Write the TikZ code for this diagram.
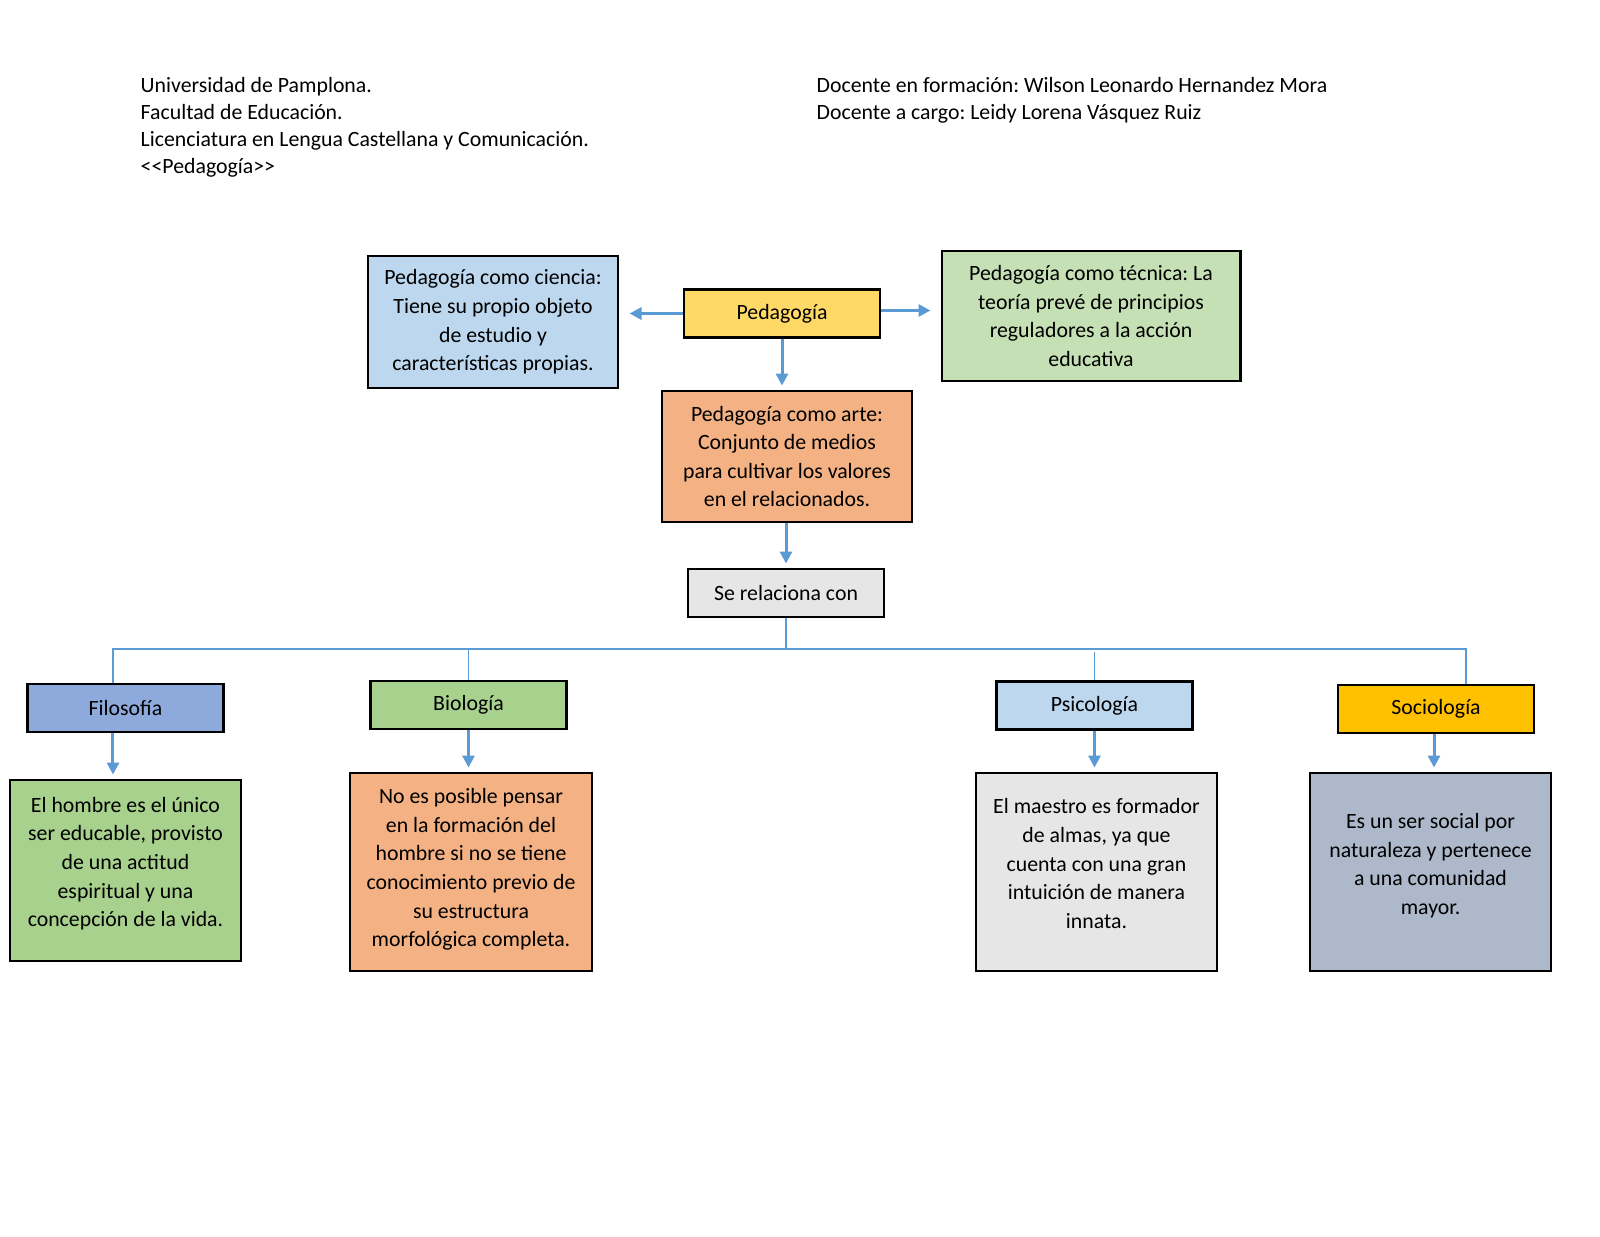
\documentclass[tikz,border=0pt]{standalone}
\usepackage{fontspec}
\setmainfont{Carlito}
\frenchspacing
\usetikzlibrary{arrows.meta}
\definecolor{cienciaBlue}{HTML}{BDD7EE}
\definecolor{pedYellow}{HTML}{FFD966}
\definecolor{tecGreen}{HTML}{C5E0B4}
\definecolor{arteOrange}{HTML}{F4B183}
\definecolor{relGray}{HTML}{E7E6E6}
\definecolor{filoBlue}{HTML}{8EA9DB}
\definecolor{bioGreen}{HTML}{A9D18E}
\definecolor{socGold}{HTML}{FFC000}
\definecolor{socSlate}{HTML}{ADB9CA}
\definecolor{linkBlue}{HTML}{5B9BD5}
\tikzset{
  caja/.style={draw=black, line width=0.8pt, align=center, inner sep=1pt,
    font=\fontsize{6.2}{8.15}\selectfont},
  titulo/.style={caja, minimum width=1.96cm, minimum height=0.48cm},
  flecha/.style={->, draw=linkBlue, line width=0.85pt, shorten >=0.04cm},
  bus/.style={draw=linkBlue, line width=0.4pt},
  cabecera/.style={align=left, anchor=north west, inner sep=0pt,
    font=\fontsize{6.2}{7.7}\selectfont}
}
\begin{document}
\begin{tikzpicture}[>={Triangle[length=0.12cm,width=0.12cm]}, x=0.01cm, y=-0.01cm]
\useasboundingbox (0,0) rectangle (1600,1236);

\node[cabecera] (univ) at (140,76.5) {Universidad de Pamplona.\\Facultad de Educación.\\Licenciatura en Lengua Castellana y Comunicación.\\<\kern0pt<Pedagogía>\kern0pt>};
\node[cabecera] (docentes) at (816,76.5) {Docente en formación: Wilson Leonardo Hernandez Mora\\Docente a cargo: Leidy Lorena Vásquez Ruiz};

\node[caja, fill=cienciaBlue, minimum width=2.50cm, minimum height=1.32cm] (ciencia) at (493,322) {Pedagogía como ciencia:\\Tiene su propio objeto\\de estudio y\\características propias.};
\node[titulo, fill=pedYellow] (ped) at (782,313.5) {Pedagogía};
\node[caja, fill=tecGreen, minimum width=2.98cm, minimum height=1.30cm] (tecnica) at (1091,316) {Pedagogía como técnica: La\\teoría prevé de principios\\reguladores a la acción\\educativa};
\node[caja, fill=arteOrange, minimum width=2.50cm, minimum height=1.31cm] (arte) at (787,456.5) {Pedagogía como arte:\\Conjunto de medios\\para cultivar los valores\\en el relacionados.};
\node[titulo, fill=relGray] (rel) at (786,593) {Se relaciona con};

\node[titulo, fill=filoBlue] (filo) at (125.5,708) {Filosofía};
\node[titulo, fill=bioGreen] (bio) at (468.5,705) {Biología};
\node[titulo, fill=cienciaBlue] (psico) at (1094.5,705.5) {Psicología};
\node[titulo, fill=socGold] (socio) at (1436,709) {Sociología};

\node[caja, fill=bioGreen, minimum width=2.31cm, minimum height=1.81cm] (filotxt) at (125.5,870.5) {El hombre es el único\\ser educable, provisto\\de una actitud\\espiritual y una\\concepción de la vida.\\[-3.3pt]};
\node[caja, fill=arteOrange, minimum width=2.42cm, minimum height=1.98cm] (biotxt) at (471,872) {No es posible pensar\\en la formación del\\hombre si no se tiene\\conocimiento previo de\\su estructura\\morfológica completa.\\[-5.6pt]};
\node[caja, fill=relGray, minimum width=2.41cm, minimum height=1.98cm] (psicotxt) at (1096.5,872) {El maestro es formador\\de almas, ya que\\cuenta con una gran\\intuición de manera\\innata.\\[-3.3pt]};
\node[caja, fill=socSlate, minimum width=2.41cm, minimum height=1.98cm] (sociotxt) at (1430.5,872) {Es un ser social por\\naturaleza y pertenece\\a una comunidad\\mayor.\\[-3.6pt]};

\draw[flecha, shorten >=0.1cm] (ped.west) -- (ped.west -| ciencia.east);
\draw[flecha, shorten >=0.1cm] ([yshift=0.03cm]ped.east) -- ([yshift=0.03cm]ped.east -| tecnica.west);
\draw[flecha] (ped.south) -- (ped.south |- arte.north);
\draw[flecha] (arte.south -| rel.north) -- (rel.north);

\coordinate (nudo) at (786,649);
\draw[bus] (rel.south) -- (nudo);
\draw[bus] ([xshift=-0.125cm]filo.north) |- (nudo) -| ([xshift=0.30cm]socio.north);
\draw[bus] (bio.north) -- (bio.north |- nudo);
\draw[bus] (psico.north) -- ([yshift=-0.03cm]psico.north |- nudo);

\draw[flecha] ([xshift=-0.125cm]filo.south) -- ([xshift=-0.125cm]filo.south |- filotxt.north);
\draw[flecha] (bio.south) -- (bio.south |- biotxt.north);
\draw[flecha] (psico.south) -- (psico.south |- psicotxt.north);
\draw[flecha] ([xshift=-0.02cm]socio.south) -- ([xshift=-0.02cm]socio.south |- sociotxt.north);

\end{tikzpicture}
\end{document}
